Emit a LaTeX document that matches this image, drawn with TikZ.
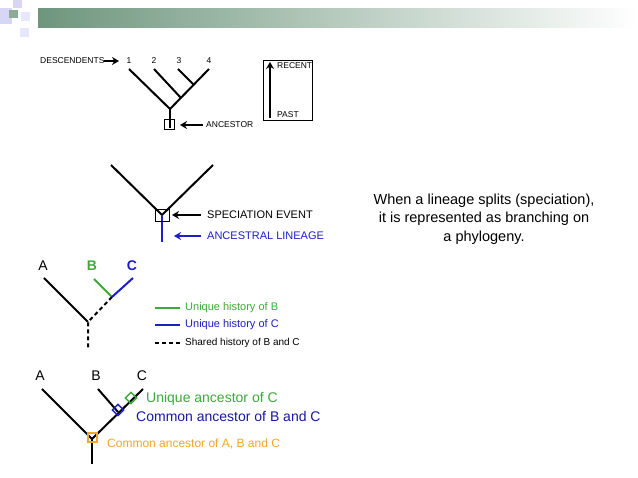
\documentclass[tikz,border=0pt]{standalone}
\usepackage{fontspec}
\usetikzlibrary{arrows.meta}
\setmainfont{Liberation Sans}
\begin{document}
\begin{tikzpicture}[x=1pt,y=-1pt,
  br/.style={line width=2pt},
  lbl/.style={inner sep=0pt,anchor=west},
  tiny/.style={font=\fontsize{8.5}{9}\selectfont},
  mid/.style={font=\fontsize{11}{12}\selectfont},
  big/.style={font=\fontsize{14}{15}\selectfont},
  arr/.style={-{Stealth[length=7pt,width=8pt]},line width=2pt}]
\definecolor{gB}{RGB}{60,170,60}
\definecolor{bC}{RGB}{30,30,200}
\definecolor{orA}{RGB}{245,165,40}
\definecolor{lav}{RGB}{215,215,245}
\definecolor{grbar}{RGB}{110,150,125}
\useasboundingbox (0,0) rectangle (638,478);
\fill[white] (0,0) rectangle (638,478);
% header
\shade[left color=grbar,right color=white] (38,9) rectangle (638,28);
\fill[lav] (13,0) rectangle (22,8);
\fill[lav] (0,8) rectangle (12,24);
\fill[grbar!80] (9,10) rectangle (18,18);
\fill[lav!80!blue!30] (21,12) rectangle (30,21);
\fill[lav!80!blue!30] (20,28) rectangle (29,37);
% top tree
\node[lbl,tiny] (desc) at (40,61) {DESCENDENTS};
\coordinate (da) at (104,61); \coordinate (db) at (119,61);
\draw[arr] (da) -- (db);
\foreach \n/\x in {1/129,2/154,3/179,4/209}{\node[tiny,inner sep=0pt] (t\n) at (\x,61) {\n};}
\coordinate (l1) at (129,69); \coordinate (l2) at (154,69);
\coordinate (l3) at (178,69); \coordinate (l4) at (209,69);
\coordinate (r) at (170,109); \coordinate (n2) at (181,98); \coordinate (n3) at (194,85);
\coordinate (rb) at (170,128);
\draw[br] (l1) -- (r) -- (l4); \draw[br] (l2) -- (n2); \draw[br] (l3) -- (n3);
\draw[br] (r) -- (rb);
\node[draw,minimum size=10pt,inner sep=0pt] (anc) at (169.5,124.5) {};
\coordinate (aa) at (203,125); \coordinate (ab) at (180,125);
\draw[arr] (aa) -- (ab);
\node[lbl,tiny] (anct) at (206,125) {ANCESTOR};
\node[draw,minimum width=49pt,minimum height=60pt,inner sep=0pt] (tbox) at (287.5,90) {};
\coordinate (pa) at (270,118); \coordinate (pb) at (270,62);
\draw[arr] (pa) -- (pb);
\node[lbl,tiny] (rec) at (277,66) {RECENT};
\node[lbl,tiny] (past) at (277,115) {PAST};
% speciation
\coordinate (sl) at (111,165); \coordinate (sr) at (213,165); \coordinate (sn) at (162,215);
\coordinate (sb) at (162,242);
\draw[br] (sl) -- (sn) -- (sr);
\draw[br,bC] (sn) -- (sb);
\node[draw,minimum width=14pt,minimum height=12pt,inner sep=0pt] (sq) at (162.5,215.5) {};
\coordinate (sa1) at (201,215); \coordinate (sa2) at (172,215);
\draw[arr] (sa1) -- (sa2);
\node[lbl,mid] (spt) at (207,215) {SPECIATION EVENT};
\coordinate (ba1) at (201,236); \coordinate (ba2) at (174,236);
\draw[arr,bC] (ba1) -- (ba2);
\node[lbl,mid,text=bC] (alt) at (207,236) {ANCESTRAL LINEAGE};
% right text
\node[font=\fontsize{14.5}{18.5}\selectfont,align=center,inner sep=0pt] (desc2) at (484,219) {When a lineage splits (speciation),\\ it is represented as branching on\\ a phylogeny.};
% tree 3
\node[big,inner sep=0pt] (A3) at (43,266) {A};
\node[big,inner sep=0pt,text=gB] (B3) at (92,266) {\textbf{B}};
\node[big,inner sep=0pt,text=bC] (C3) at (132,266) {\textbf{C}};
\coordinate (a3) at (44,278); \coordinate (r3) at (88,322); \coordinate (b3) at (94,279);
\coordinate (c3) at (133,278); \coordinate (n3b) at (112,297); \coordinate (e3) at (88,348);
\draw[br] (a3) -- (r3);
\draw[br,gB] (b3) -- (n3b);
\draw[br,bC] (c3) -- (n3b);
\draw[br,dash pattern=on 4pt off 3pt] (n3b) -- (r3) -- (e3);
\coordinate (g1) at (155,308); \coordinate (g2) at (180,308);
\coordinate (h1) at (155,325); \coordinate (h2) at (180,325);
\coordinate (k1) at (155,343); \coordinate (k2) at (180,343);
\draw[br,gB] (g1) -- (g2); \draw[br,bC] (h1) -- (h2);
\draw[br,dash pattern=on 4pt off 3pt] (k1) -- (k2);
\node[lbl,mid,text=gB] (lg) at (185,308) {Unique history of B};
\node[lbl,mid,text=bC] (lh) at (185,325) {Unique history of C};
\node[lbl,font=\fontsize{10}{11}\selectfont] (lk) at (185,343) {Shared history of B and C};
% tree 4
\node[big,inner sep=0pt] (A4) at (40,376) {A};
\node[big,inner sep=0pt] (B4) at (96,376) {B};
\node[big,inner sep=0pt] (C4) at (142,376) {C};
\coordinate (a4) at (42,389); \coordinate (r4) at (92,439); \coordinate (b4) at (98,389);
\coordinate (c4) at (143,389); \coordinate (n4) at (118,412); \coordinate (e4) at (92,464);
\draw[br] (a4) -- (r4) -- (c4); \draw[br] (b4) -- (n4); \draw[br] (r4) -- (e4);
\node[draw=orA,line width=2pt,minimum size=9pt,inner sep=0pt] (oq) at (92,438) {};
\node[draw=bC,line width=1.5pt,minimum size=8pt,inner sep=0pt,rotate=45] (bq) at (118,410) {};
\node[draw=gB,line width=1.5pt,minimum size=8pt,inner sep=0pt,rotate=45] (gq) at (131,398) {};
\node[lbl,big,text=gB] (tg) at (146,399) {Unique ancestor of C};
\node[lbl,big,text=bC!80!black] (tb) at (136,416) {Common ancestor of B and C};
\node[lbl,text=orA,font=\fontsize{12}{13}\selectfont] (to) at (107,444) {Common ancestor of A, B and C};
\end{tikzpicture}
\end{document}
